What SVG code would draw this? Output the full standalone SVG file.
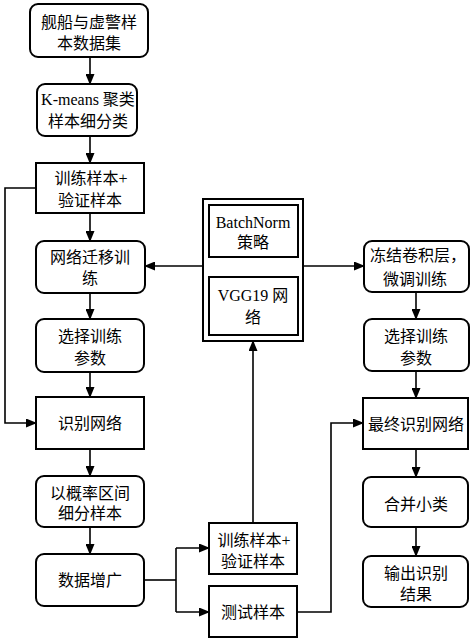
<svg xmlns="http://www.w3.org/2000/svg" width="474" height="641" viewBox="0 0 474 641">
<style>
.box{fill:#fff;stroke:#000;stroke-width:2}
.ln{fill:none;stroke:#000;stroke-width:1.6}
text{font-family:"Liberation Serif","Noto Sans CJK SC",serif;font-size:16px;fill:#000;text-anchor:middle;dominant-baseline:central}
</style>
<defs>
<marker id="ah" markerUnits="userSpaceOnUse" markerWidth="11" markerHeight="9" refX="10" refY="4.5" orient="auto">
<path d="M0,0 L11,4.5 L0,9 z" fill="#000"/>
</marker>
</defs>
<rect width="474" height="641" fill="#fff"/>
<g id="connectors">
<path class="ln" d="M90,57 V84" marker-end="url(#ah)"/>
<path class="ln" d="M90,136 V163" marker-end="url(#ah)"/>
<path class="ln" d="M90,213 V241" marker-end="url(#ah)"/>
<path class="ln" d="M90,293 V319" marker-end="url(#ah)"/>
<path class="ln" d="M90,372 V397" marker-end="url(#ah)"/>
<path class="ln" d="M90,449 V476" marker-end="url(#ah)"/>
<path class="ln" d="M90,527 V554" marker-end="url(#ah)"/>
<path class="ln" d="M36,188 H5 V423 H36" marker-end="url(#ah)"/>
<path class="ln" d="M144,580 H176"/>
<path class="ln" d="M176,548 V612"/>
<path class="ln" d="M176,548 H209" marker-end="url(#ah)"/>
<path class="ln" d="M176,612 H209" marker-end="url(#ah)"/>
<path class="ln" d="M253,523 V341" marker-end="url(#ah)"/>
<path class="ln" d="M203,266 H145" marker-end="url(#ah)"/>
<path class="ln" d="M303,266 H364" marker-end="url(#ah)"/>
<path class="ln" d="M254,257 V277" marker-end="url(#ah)"/>
<path class="ln" d="M416,292 V319" marker-end="url(#ah)"/>
<path class="ln" d="M416,371 V398" marker-end="url(#ah)"/>
<path class="ln" d="M416,449 V477" marker-end="url(#ah)"/>
<path class="ln" d="M416,527 V556" marker-end="url(#ah)"/>
<path class="ln" d="M297,612 H331 V423 H363" marker-end="url(#ah)"/>
</g>
<g id="n1"><rect class="box" x="30" y="4" width="118" height="53" rx="8"/><text x="89" y="22">舰船与虚警样</text><text x="89" y="43">本数据集</text></g>
<g id="n2"><rect class="box" x="37" y="84" width="100" height="52" rx="8"/><text x="88" y="99">K-means 聚类</text><text x="88" y="121">样本细分类</text></g>
<g id="n3"><rect class="box" x="36" y="163" width="108" height="50"/><text x="91" y="178">训练样本+</text><text x="90" y="200">验证样本</text></g>
<g id="n4"><rect class="box" x="36" y="241" width="109" height="52" rx="8"/><text x="90" y="257">网络迁移训</text><text x="90" y="278">练</text></g>
<g id="n5"><rect class="box" x="36" y="319" width="108" height="53" rx="8"/><text x="90" y="336">选择训练</text><text x="90" y="358">参数</text></g>
<g id="n6"><rect class="box" x="36" y="397" width="108" height="52"/><text x="90" y="423">识别网络</text></g>
<g id="n7"><rect class="box" x="36" y="476" width="108" height="51" rx="8"/><text x="90" y="493">以概率区间</text><text x="90" y="513">细分样本</text></g>
<g id="n8"><rect class="box" x="36" y="554" width="108" height="52" rx="8"/><text x="90" y="580">数据增广</text></g>
<g id="vgg-group"><rect class="box" x="203" y="199" width="100" height="142"/></g>
<g id="n9"><rect class="box" x="209" y="205" width="89" height="52"/><text x="253" y="222">BatchNorm</text><text x="253" y="242">策略</text></g>
<g id="n10"><rect class="box" x="209" y="277" width="89" height="58"/><text x="253" y="295">VGG19 网</text><text x="253" y="317">络</text></g>
<g id="n11"><rect class="box" x="209" y="523" width="88" height="51"/><text x="254" y="540">训练样本+</text><text x="253" y="561">验证样本</text></g>
<g id="n12"><rect class="box" x="209" y="586" width="88" height="51"/><text x="253" y="612">测试样本</text></g>
<g id="n13"><rect class="box" x="364" y="241" width="105" height="51" rx="8"/><text x="418" y="255">冻结卷积层，</text><text x="415" y="279">微调训练</text></g>
<g id="n14"><rect class="box" x="364" y="319" width="105" height="52" rx="8"/><text x="416" y="336">选择训练</text><text x="416" y="358">参数</text></g>
<g id="n15"><rect class="box" x="363" y="398" width="105" height="51"/><text x="416" y="424">最终识别网络</text></g>
<g id="n16"><rect class="box" x="363" y="477" width="105" height="50" rx="8"/><text x="416" y="504">合并小类</text></g>
<g id="n17"><rect class="box" x="363" y="556" width="105" height="51" rx="8"/><text x="416" y="573">输出识别</text><text x="416" y="594">结果</text></g>
</svg>
